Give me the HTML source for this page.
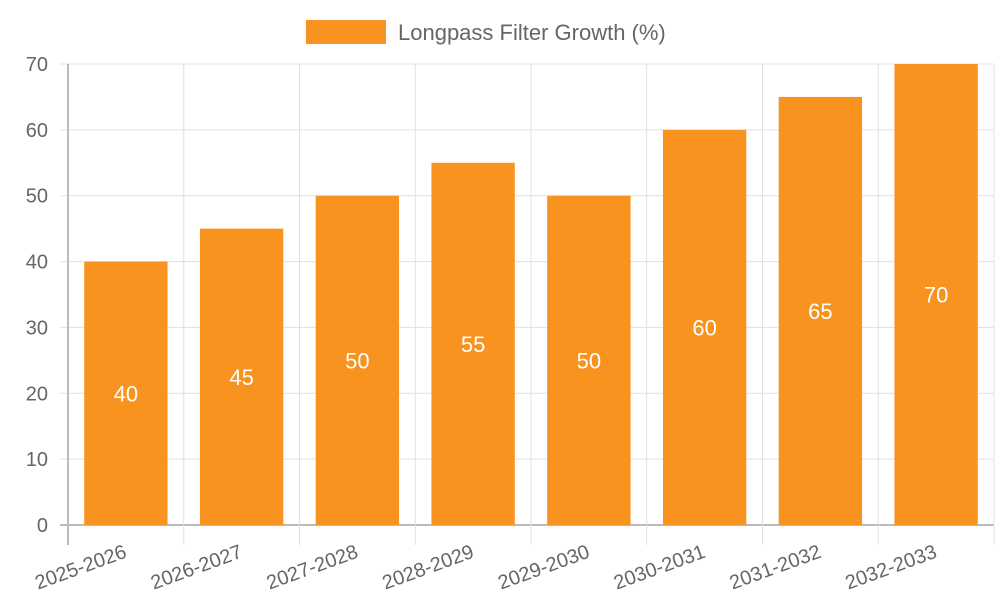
<!DOCTYPE html>
<html><head><meta charset="utf-8"><style>
html,body{margin:0;padding:0;background:#fff;}
svg{display:block;font-family:"Liberation Sans",sans-serif;}
</style></head><body>
<svg id="chart" width="1000" height="600">
  <g id="legend">
    <rect x="306" y="20" width="80" height="24" fill="#f7931e"></rect>
    <text x="398" y="40" font-size="22" fill="#666">Longpass Filter Growth (%)</text>
  </g>
  <g id="grid"></g>
  <g id="bars"></g>
  <g id="axes"></g>
</svg>
<script>
const categories = ["2025-2026","2026-2027","2027-2028","2028-2029","2029-2030","2030-2031","2031-2032","2032-2033"];
const values = [40,45,50,55,50,60,65,70];
const yTicks = [0,10,20,30,40,50,60,70];

const NS = "http://www.w3.org/2000/svg";
const L = 68, R = 994, T = 64, B = 525, yMax = 70;
const bandW = (R - L) / categories.length;
const y = v => B - (v / yMax) * (B - T);
const x = i => L + i * bandW;
function mk(tag, attrs, parent) {
  const e = document.createElementNS(NS, tag);
  for (const k in attrs) e.setAttribute(k, attrs[k]);
  parent.appendChild(e);
  return e;
}
const grid = document.getElementById("grid");
const bars = document.getElementById("bars");
const axes = document.getElementById("axes");

yTicks.forEach(t => {
  const ln = mk("line", {x1: L - 8, x2: R, y1: y(t), y2: y(t), stroke: t === 0 ? "#bbb" : "#e0e0e0", "stroke-width": t === 0 ? 2 : 1}, grid);
  
  
  const tx = mk("text", {x: L - 20, y: y(t) + 7, "text-anchor": "end", "font-size": 20, fill: "#666"}, axes);
  tx.textContent = t;
  
  
});
for (let i = 0; i <= categories.length; i++) {
  const ln = mk("line", {x1: x(i), x2: x(i), y1: T, y2: B + 20, stroke: i === 0 ? "#bbb" : "#e0e0e0", "stroke-width": i === 0 ? 2 : 1}, grid);
  
  
}
categories.forEach((c, i) => {
  const bw = bandW * 0.72;
  const cx = x(i) + bandW / 2;
  const r = mk("rect", {x: cx - bw / 2, y: y(values[i]), width: bw, height: B - y(values[i]), fill: "#f7931e"}, bars);
  
  
  const vt = mk("text", {x: cx, y: (y(values[i]) + B) / 2 + 8, "text-anchor": "middle", "font-size": 22, fill: "#fff"}, bars);
  vt.textContent = values[i];
  
  
  const lt = mk("text", {x: cx + 2, y: B + 32, "text-anchor": "end", "font-size": 20, fill: "#666", transform: `rotate(-20 ${cx + 2} ${B + 32})`}, axes);
  lt.textContent = c;
  
  
});
</script>
</body></html>
